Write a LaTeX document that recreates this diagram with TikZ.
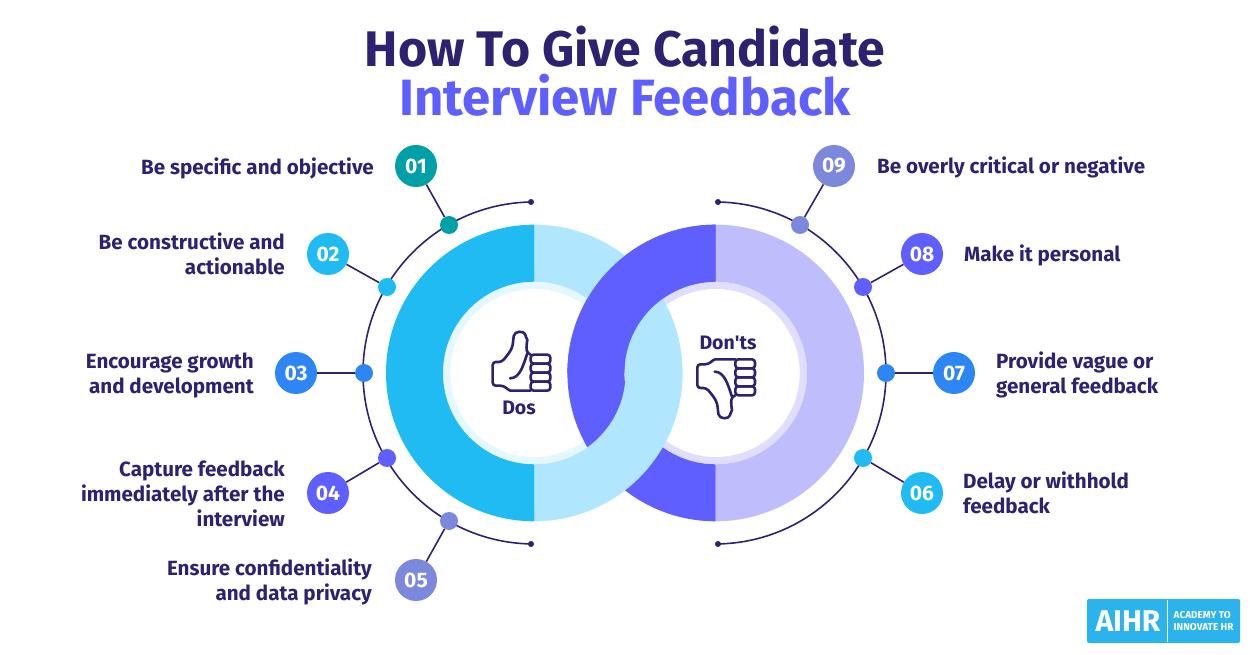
\documentclass[tikz,border=0pt]{standalone}
\usepackage{fontspec}
\setmainfont{Fira Sans}
\usepackage{xcolor}
\usetikzlibrary{calc}
\definecolor{inktext}{HTML}{2E2270}
\definecolor{titleblue}{HTML}{5F5FFF}
\definecolor{cyandark}{HTML}{1FBBF2}
\definecolor{cyanlight}{HTML}{B0E6FE}
\definecolor{cyanband}{HTML}{E6F8FF}
\definecolor{violetdark}{HTML}{5F5FFF}
\definecolor{violetlight}{HTML}{BFBDFC}
\definecolor{violetband}{HTML}{DFDEFF}
\definecolor{tealnum}{HTML}{00A0A8}
\definecolor{bluenum}{HTML}{2E86F5}
\definecolor{slatenum}{HTML}{7B88DB}
\definecolor{logoblue}{HTML}{2AB3EC}
\tikzstyle{titleline}=[text=inktext,font=\fontsize{50}{50}\selectfont\bfseries,inner sep=0pt,anchor=base]
\tikzstyle{lab}=[text=inktext,font=\fontsize{20.6}{25}\selectfont\bfseries,inner sep=0pt]
\tikzstyle{iconlab}=[text=inktext,font=\fontsize{19.5}{25}\selectfont\bfseries,inner sep=0pt]
\tikzstyle{labl}=[lab,align=right,anchor=east]
\tikzstyle{labr}=[lab,align=left,anchor=west]
\tikzstyle{num}=[circle,minimum size=42pt,inner sep=0pt,text=white,font=\fontsize{21}{21}\selectfont\bfseries]
\tikzstyle{dot}=[circle,minimum size=18pt,inner sep=0pt]
\tikzstyle{enddot}=[circle,fill=inktext,minimum size=6pt,inner sep=0pt]
\tikzstyle{wire}=[draw=inktext,line width=1.6pt]
\tikzstyle{iconline}=[draw=inktext,line width=2.6pt,line join=round,line cap=round,rounded corners=3pt]
% half ring: centre, start angle, end angle
\newcommand\halfring[3]{(#1)++(#2:148.3) arc[start angle=#2,end angle=#3,radius=148.3] -- ++(#3:-57) arc[start angle=#3,end angle=#2,radius=91.3] -- cycle}
\newcommand\thumbicon{%
	\draw[iconline] (182,104) -- (172,100) .. controls (168,80) and (172,60) .. (168,52) .. controls (162,32) and (134,32) .. (130,56) .. controls (128,80) and (126,90) .. (95,126) -- (68,126) -- (68,197) -- (100,197) .. controls (110,205) and (118,212) .. (130,212) -- (182,212);
	\draw[draw=inktext,line width=2.6pt,line cap=round] (120,175) .. controls (150,175) and (160,135) .. (172,100);
	\draw[iconline] (182,104) rectangle (241,131);
	\draw[iconline] (182,131) rectangle (241,158);
	\draw[iconline] (182,158) rectangle (241,185);
	\draw[iconline] (182,185) rectangle (241,212);
}
\begin{document}
\begin{tikzpicture}[x=1pt,y=1pt]
	\useasboundingbox (0,0) rectangle (1250,654);
	\coordinate (cl) at (534.3,281);
	\coordinate (cr) at (715.7,281);
	% hole bands
	\fill[cyanband] (cl) circle[radius=91.3];
	\fill[white] (cl) circle[radius=84];
	\fill[violetband] (cr) circle[radius=91.3];
	\fill[white] (cr) circle[radius=84];
	% rings, left one on top, then the upper part of the right one again
	\fill[violetlight] \halfring{cr}{-90}{90};
	\fill[violetdark] \halfring{cr}{90}{270};
	\fill[cyanlight] \halfring{cl}{-90}{90};
	\fill[cyandark] \halfring{cl}{90}{270};
	\begin{scope}
		\clip (500,281) rectangle (720,460);
		\fill[violetdark] \halfring{cr}{90}{270};
	\end{scope}
	% icons
	\begin{scope}[shift={(470,334)},x=.3333pt,y=-.3333pt]
		\thumbicon
	\end{scope}
	\begin{scope}[shift={(674.67,224)},x=.3333pt,y=.3333pt]
		\thumbicon
	\end{scope}
	\node[iconlab] (dos) at (519,246.5) {Dos};
	\node[iconlab] (donts) at (728,311.5) {Don\textquotesingle ts};
	% title
	\node[titleline] (title1) at (625,587) {How To Give Candidate};
	\node[titleline,text=titleblue,font=\fontsize{51}{51}\selectfont\bfseries] (title2) at (625,538) {Interview Feedback};
	% outer arcs
	\coordinate (al) at (531,452);
	\coordinate (bl) at (531,110);
	\coordinate (ar) at (718,452);
	\coordinate (br) at (718,110);
	\draw[wire] (al) arc[start angle=91,end angle=269,radius=171];
	\draw[wire] (ar) arc[start angle=89,end angle=-89,radius=171];
	\node[enddot] (eal) at (al) {};
	\node[enddot] (ebl) at (bl) {};
	\node[enddot] (ear) at (ar) {};
	\node[enddot] (ebr) at (br) {};
	% numbered nodes
	\node[num,fill=tealnum] (n1) at (416,488) {01};
	\node[num,fill=cyandark] (n2) at (328,400) {02};
	\node[num,fill=bluenum] (n3) at (296,281) {03};
	\node[num,fill=violetdark] (n4) at (328,161) {04};
	\node[num,fill=slatenum] (n5) at (416,74) {05};
	\node[num,fill=cyandark] (n6) at (922,161) {06};
	\node[num,fill=bluenum] (n7) at (954,281) {07};
	\node[num,fill=violetdark] (n8) at (922,400) {08};
	\node[num,fill=slatenum] (n9) at (834,488) {09};
	% dots on the arcs
	\node[dot,fill=tealnum] (d1) at (449,429) {};
	\node[dot,fill=cyandark] (d2) at (387,367) {};
	\node[dot,fill=bluenum] (d3) at (364,281) {};
	\node[dot,fill=violetdark] (d4) at (387,196) {};
	\node[dot,fill=slatenum] (d5) at (449,133) {};
	\node[dot,fill=cyandark] (d6) at (863,196) {};
	\node[dot,fill=bluenum] (d7) at (886,281) {};
	\node[dot,fill=violetdark] (d8) at (863,367) {};
	\node[dot,fill=slatenum] (d9) at (800,429) {};
	\draw[wire] (n1) -- (d1);
	\draw[wire] (n2) -- (d2);
	\draw[wire] (n3) -- (d3);
	\draw[wire] (n4) -- (d4);
	\draw[wire] (n5) -- (d5);
	\draw[wire] (n6) -- (d6);
	\draw[wire] (n7) -- (d7);
	\draw[wire] (n8) -- (d8);
	\draw[wire] (n9) -- (d9);
	% labels
	\node[labl] (t1) at (374,486) {Be specific and objective};
	\node[labl] (t2) at (285,400) {Be constructive and\\actionable};
	\node[labl] (t3) at (254,278.5) {Encourage growth\\and development};
	\node[labl] (t4) at (285,160) {Capture feedback\\immediately after the\\interview};
	\node[labl] (t5) at (372,72) {Ensure confidentiality\\and data privacy};
	\node[labr] (t6) at (963,161) {Delay or withhold\\feedback};
	\node[labr] (t7) at (996,279) {Provide vague or\\general feedback};
	\node[labr] (t8) at (964,399) {Make it personal};
	\node[labr] (t9) at (877,487) {Be overly critical or negative};
	% logo
	\node[fill=logoblue,rounded corners=2pt,minimum width=153pt,minimum height=44pt,inner sep=0pt] (logo) at (1163.5,33) {};
	\node[text=white,font=\fontsize{30}{30}\selectfont\bfseries,inner sep=0pt] (aihr) at (1128,33) {AIHR};
	\coordinate (bartop) at (1167,54);
	\coordinate (barbot) at (1167,12);
	\draw[white,line width=.8pt] (bartop) -- (barbot);
	\node[text=white,font=\fontsize{10}{11.5}\selectfont\bfseries,align=left,anchor=west,inner sep=0pt] (tag) at (1173.5,33) {ACADEMY TO\\INNOVATE HR};
\end{tikzpicture}
\end{document}
